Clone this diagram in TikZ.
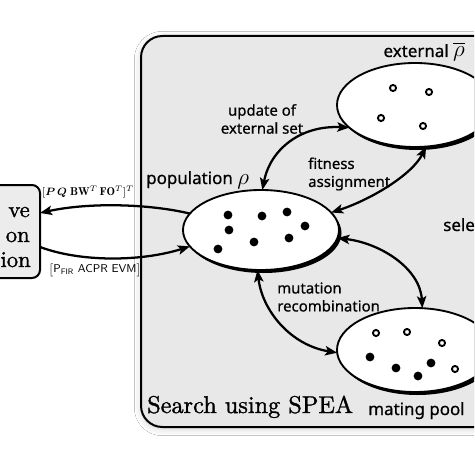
\documentclass[tikz,border=0pt]{standalone}
\usepackage{fontspec}
\usepackage{amsmath}
\usepackage{bm}
\newfontfamily\labfont{Noto Sans}[FakeBold=0.6]
\newfontfamily\serfont{lmroman10-regular.otf}[FakeBold=1.3]
\usetikzlibrary{shapes.geometric,arrows.meta,shadows.blur}
\definecolor{boxgrey}{HTML}{E8E8E8}
\definecolor{lboxgrey}{HTML}{ECECEC}
\tikzset{
  tipst/.tip={Stealth[length=9pt,width=7pt,inset=2pt]},
  dbl/.style={{tipst}-{tipst}, line width=1.7pt},
  sgl/.style={-{tipst}, line width=1.7pt},
  setell/.style={ellipse, draw, fill=white, line width=1.4pt, inner sep=0pt, outer sep=0pt},
  setshadow/.style={ellipse, fill=black, inner sep=0pt, outer sep=0pt},
  lab/.style={font=\labfont\fontsize{11.2}{13.5}\selectfont, inner sep=0pt},
  setlab/.style={font=\labfont\fontsize{12.7}{15}\selectfont, inner sep=0pt},
  serlab/.style={font=\serfont\fontsize{18.2}{22}\selectfont, inner sep=0pt},
  evallab/.style={font=\serfont\fontsize{17}{19}\selectfont, inner sep=0pt},
  mathlab/.style={font=\fontsize{8.5}{10}\selectfont, inner sep=0pt},
  fdot/.style={fill=black},
  odot/.style={draw=black, fill=white, line width=1.4pt},
}
\newcommand{\bigrho}[1]{{\fontsize{16}{16}\selectfont$#1$}}
\begin{document}
\begin{tikzpicture}[x=0.75pt,y=-0.75pt]
\useasboundingbox (0,0) rectangle (474,474);
\clip (0,0) rectangle (474,474);
\fill[white] (0,0) rectangle (474,474);

% SPEA box
\path[draw, line width=1.5pt, fill=boxgrey, rounded corners=16pt,
  blur shadow={shadow xshift=0pt, shadow yshift=-1.5pt, shadow blur radius=5pt, shadow opacity=18}]
  (141,36) rectangle (560,427);

% evaluation box (cut at the left edge)
\node[rectangle, draw, line width=1.5pt, fill=lboxgrey, rounded corners=6pt,
  minimum width=90pt, minimum height=69.75pt, inner sep=0pt, outer sep=0pt, anchor=east]
  (eval) at (40,231.5) {};
\node[evallab, anchor=base east] (ev1) at (30,217) {ve};
\node[evallab, anchor=base east] (ev2) at (30,242) {on};
\node[evallab, anchor=base east] (ev3) at (31,267) {ion};

% sets
\node[setshadow, minimum width=117pt, minimum height=60pt] (popsh) at (263.5,233) {};
\node[setell, minimum width=117pt, minimum height=60pt] (pop) at (261,230) {};
\node[setshadow, minimum width=117pt, minimum height=63pt] (extsh) at (417.5,108) {};
\node[setell, minimum width=117pt, minimum height=63pt] (ext) at (415,105) {};
\node[setshadow, minimum width=117pt, minimum height=63pt] (matsh) at (417.5,353) {};
\node[setell, minimum width=117pt, minimum height=63pt] (mat) at (415,350) {};

% individuals
\foreach \p in {(228,215),(262,216),(287,212),(305,226),(229,230),(254,242),(289,238),(218,249)}
  \fill[fdot] \p circle[radius=3.3pt];
\foreach \p in {(393,88),(429,92),(381,118),(423,126)}
  \draw[odot] \p circle[radius=2.3pt];
\foreach \p in {(376,333),(407,332),(442,343),(455,369)}
  \draw[odot] \p circle[radius=2.3pt];
\foreach \p in {(370,357),(396,368),(418,376),(431,363)}
  \fill[fdot] \p circle[radius=3.3pt];

% connectors
\draw[dbl] (pop.88) .. controls (270,150) and (300,125) .. (ext.199);
\draw[dbl] (ext.-75) .. controls (412,175) and (370,200) .. (pop.14);
\draw[dbl] (pop.-6) .. controls (380,243) and (420,268) .. (mat.80);
\draw[dbl] (pop.-95) .. controls (262,310) and (290,345) .. (mat.182);
\draw[sgl] (pop.167) .. controls (150,204) and (90,202) .. ([yshift=13.9pt]eval.east);
\draw[sgl] ([yshift=-11.6pt]eval.east) .. controls (80,262) and (140,262) .. (pop.193);

% labels
\node[setlab, anchor=base west] (poplab) at (146,184) {population \bigrho{\rho}};
\node[setlab, anchor=base east] (extlab) at (465,57) {external \bigrho{\overline{\rho}}};
\node[setlab, anchor=base west] (matlab) at (368,415) {mating pool};
\node[setlab, anchor=base west] (sellab) at (443,231) {sele};
\node[lab, align=center] (updlab) at (262,119) {update of\\external set};
\node[lab, align=left, anchor=west] (fitlab) at (308,174) {fitness\\assignment};
\node[lab, align=left, anchor=west] (mutlab) at (277,297) {mutation\\recombination};
\node[serlab, anchor=base west] (spealab) at (147,413) {Search using SPEA};
\node[mathlab] (outlab) at (88,192) {$[\bm{P}\,\bm{Q}\;\mathbf{BW}^{T}\,\mathbf{FO}^{T}]^{T}$};
\node[mathlab] (inlab) at (95,270) {$\big[\textsf{P}_{\textsf{FIR}}\ \textsf{ACPR EVM}\big]$};
\end{tikzpicture}
\end{document}
